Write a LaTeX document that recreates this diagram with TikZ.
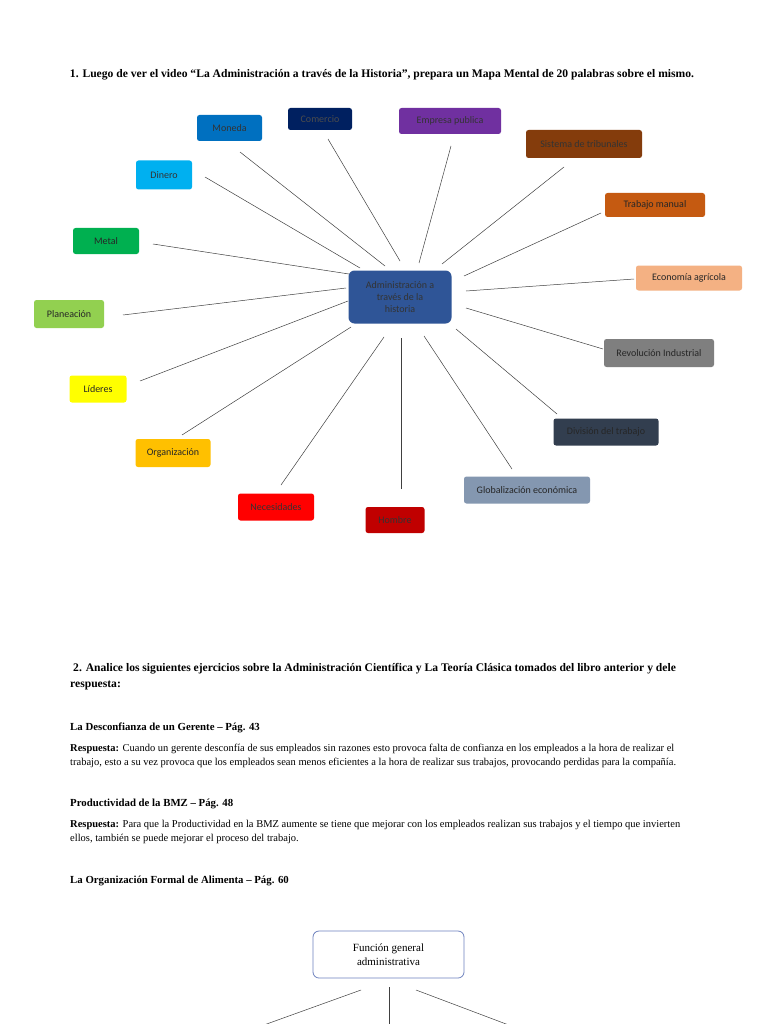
\documentclass[tikz,border=0pt]{standalone}
\usepackage{fontspec}
\setmainfont{Liberation Serif}
\newfontfamily\boxfont{Carlito}
\begin{document}
\begin{tikzpicture}[x=1pt,y=-1pt,
  kw/.style={draw=none,rounded corners=2.5pt,minimum width=#1,inner sep=0pt,align=center,font=\boxfont\fontsize{10}{11}\selectfont},
  ln/.style={draw=black!75,line width=0.5pt},
  tx/.style={anchor=west,inner sep=0pt,font=\fontsize{10.5}{12}\selectfont}]
\useasboundingbox (0,0) rectangle (768,1024);
\clip (0,0) rectangle (768,1024);
\fill[white] (0,0) rectangle (768,1024);
\node[inner sep=0pt,font=\bfseries\fontsize{11.6}{13}\selectfont] (title) at (382,75) {1. Luego de ver el video “La Administración a través de la Historia”, prepara un Mapa Mental de 20 palabras sobre el mismo.};
% boxes
\node[kw=103pt,minimum height=53pt,fill={rgb,255:red,47;green,85;blue,151},rounded corners=6pt,text=black!80] (c) at (400,297) {Administración a\\[1pt]través de la\\[1pt]historia};
\node[kw=65pt,minimum height=26pt,fill={rgb,255:red,0;green,112;blue,192},text=black!80] (moneda) at (229.5,128) {Moneda};
\node[kw=64pt,minimum height=22pt,fill={rgb,255:red,0;green,32;blue,96},text=black!70] (comercio) at (320,119) {Comercio};
\node[kw=102pt,minimum height=26pt,fill={rgb,255:red,112;green,48;blue,160},text=black!80] (empresa) at (450,121) {Empresa publica};
\node[kw=116pt,minimum height=28pt,fill={rgb,255:red,132;green,60;blue,12},text=black!80] (sistema) at (584,144) {Sistema de tribunales};
\node[kw=100pt,minimum height=24pt,fill={rgb,255:red,197;green,90;blue,17},text=black!85] (trabajo) at (655,205) {Trabajo manual};
\node[kw=106pt,minimum height=25pt,fill={rgb,255:red,244;green,177;blue,131},text=black!85] (econ) at (689,278) {Economía agrícola};
\node[kw=110pt,minimum height=28pt,fill={rgb,255:red,127;green,127;blue,127},text=black!85] (revol) at (659,353) {Revolución Industrial};
\node[kw=105pt,minimum height=27pt,fill={rgb,255:red,50;green,62;blue,79},text=black!85] (divis) at (606,432) {División del trabajo};
\node[kw=126pt,minimum height=27pt,fill={rgb,255:red,132;green,151;blue,176},text=black!85] (glob) at (527,490) {Globalización económica};
\node[kw=59pt,minimum height=26pt,fill={rgb,255:red,192;green,0;blue,0},text=black!80] (hombre) at (395,520) {Hombre};
\node[kw=76pt,minimum height=27pt,fill={rgb,255:red,255;green,0;blue,0},text=black!80] (neces) at (276,507) {Necesidades};
\node[kw=75pt,minimum height=28pt,fill={rgb,255:red,255;green,192;blue,0},text=black!85] (organ) at (173,453) {Organización};
\node[kw=57pt,minimum height=27pt,fill={rgb,255:red,255;green,255;blue,0},text=black!85] (lider) at (98,389) {Líderes};
\node[kw=70pt,minimum height=28pt,fill={rgb,255:red,146;green,208;blue,80},text=black!85] (plan) at (69,314) {Planeación};
\node[kw=66pt,minimum height=26pt,fill={rgb,255:red,0;green,176;blue,80},text=black!85] (metal) at (106,241) {Metal};
\node[kw=56pt,minimum height=29pt,fill={rgb,255:red,0;green,176;blue,240},text=black!80] (dinero) at (164,175) {Dinero};
% line end points
\foreach \n/\ax/\ay/\bx/\by in {moneda/240/152/385/266, comercio/328/139/400/261, empresa/451/146/419/263,
  sistema/564/167/442/264, trabajo/601/213/464/276, econ/634/279/466/291, revol/603/349/466/308,
  divis/557/414/456/329, glob/512/469/424/336, hombre/401/489/401/338, neces/281/485/384/337,
  organ/182/435/351/327, lider/140/381/348/301, plan/123/315/346/288, metal/153/244/349/274, dinero/205/177/360/268}{
  \coordinate (\n-a) at (\ax,\ay);
  \coordinate (\n-b) at (\bx,\by);
  \draw[ln] (\n-a) -- (\n-b);
}
% section 2
\node[tx,font=\bfseries\fontsize{11.6}{13}\selectfont] (s2a) at (73,669) {2. Analice los siguientes ejercicios sobre la Administración Científica y La Teoría Clásica tomados del libro anterior y dele};
\node[tx,font=\bfseries\fontsize{11.6}{13}\selectfont] (s2b) at (70,685) {respuesta:};
\node[tx,font=\bfseries\fontsize{10.8}{12}\selectfont] (h1) at (70,728) {La Desconfianza de un Gerente – Pág. 43};
\node[tx] (r1a) at (70,749) {\textbf{Respuesta:} Cuando un gerente desconfía de sus empleados sin razones esto provoca falta de confianza en los empleados a la hora de realizar el};
\node[tx] (r1b) at (70,763) {trabajo, esto a su vez provoca que los empleados sean menos eficientes a la hora de realizar sus trabajos, provocando perdidas para la compañía.};
\node[tx,font=\bfseries\fontsize{10.8}{12}\selectfont] (h2) at (70,804) {Productividad de la BMZ – Pág. 48};
\node[tx] (r2a) at (70,825) {\textbf{Respuesta:} Para que la Productividad en la BMZ aumente se tiene que mejorar con los empleados realizan sus trabajos y el tiempo que invierten};
\node[tx] (r2b) at (70,839) {ellos, también se puede mejorar el proceso del trabajo.};
\node[tx,font=\bfseries\fontsize{10.8}{12}\selectfont] (h3) at (70,881) {La Organización Formal de Alimenta – Pág. 60};
\node[draw={rgb,255:red,110;green,130;blue,190},line width=0.8pt,rounded corners=6pt,minimum width=151pt,minimum height=47pt,align=center,font=\fontsize{11}{14}\selectfont] (fga) at (388.5,954.5) {Función general\\administrativa};
\coordinate (fa1) at (361,990); \coordinate (fb1) at (250,1030);
\coordinate (fa2) at (389,987); \coordinate (fb2) at (389,1030);
\coordinate (fa3) at (416,990); \coordinate (fb3) at (522,1030);
\draw[ln] (fa1) -- (fb1); \draw[ln] (fa2) -- (fb2); \draw[ln] (fa3) -- (fb3);
\end{tikzpicture}
\end{document}
